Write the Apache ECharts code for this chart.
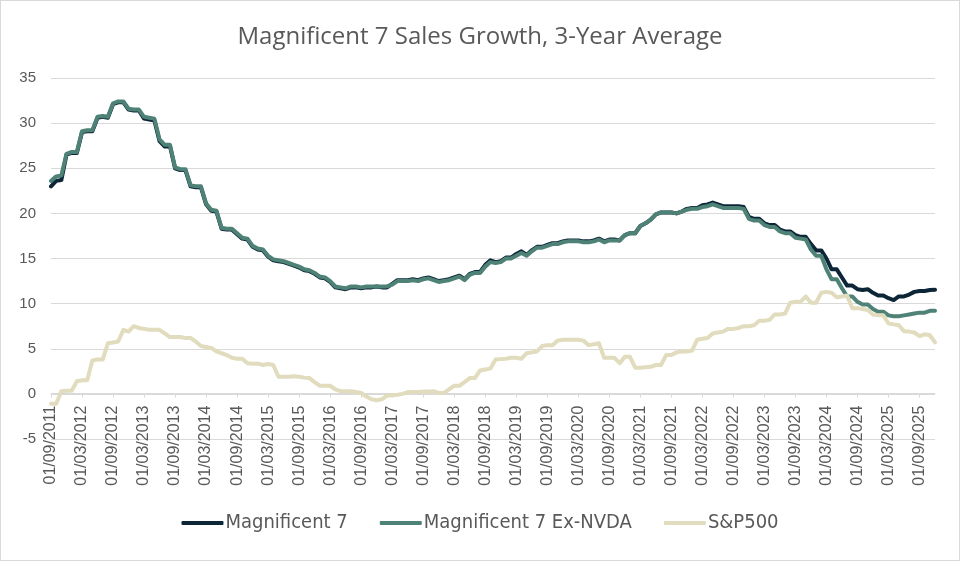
<html>
<head>
<meta charset="UTF-8">
<script src="https://cdn.jsdelivr.net/npm/echarts@6/dist/echarts.min.js"></script>
<title>Magnificent 7 Sales Growth</title>
<style>
	body { margin: 0; background: #fff; }
	#main { width: 958px; height: 559px; border: 1px solid #d9d9d9; }
</style>
</head>
<body>
	<div id="main"></div>
</body>
<script type="text/javascript">
	// monthly, 01/09/2011 .. 01/12/2025
	var months = [];
	for (var y = 2011, m = 9; y < 2025 || (y == 2025 && m <= 12); m++) {
		if (m > 12) { m = 1; y++; }
		months.push('01/' + (m < 10 ? '0' + m : m) + '/' + y);
	}

	var mag7 = [23.0,23.6,23.7,26.5,26.7,26.7,29.0,29.1,29.1,30.6,30.7,30.6,
		32.1,32.3,32.3,31.5,31.4,31.4,30.5,30.4,30.3,28.0,27.4,27.5,
		25.0,24.8,24.8,23.0,22.9,22.9,21.0,20.3,20.2,18.3,18.2,18.2,
		17.7,17.2,17.1,16.3,16.0,15.9,15.2,14.8,14.7,14.6,14.4,14.2,
		14.0,13.7,13.6,13.3,12.9,12.8,12.4,11.8,11.7,11.6,11.8,11.8,
		11.7,11.8,11.8,11.9,11.8,11.8,12.2,12.6,12.6,12.6,12.7,12.6,
		12.8,12.9,12.7,12.5,12.6,12.7,12.9,13.1,12.7,13.3,13.5,13.5,
		14.3,14.8,14.6,14.7,15.1,15.1,15.5,15.8,15.4,15.9,16.3,16.3,
		16.5,16.7,16.7,16.9,17.0,17.0,17.0,16.9,16.9,17.0,17.2,16.9,
		17.1,17.1,17.0,17.6,17.8,17.8,18.6,18.9,19.3,19.9,20.1,20.1,
		20.1,20.0,20.2,20.5,20.6,20.6,20.9,21.0,21.2,21.0,20.8,20.8,
		20.8,20.8,20.7,19.6,19.4,19.4,18.9,18.7,18.7,18.2,18.0,18.0,
		17.6,17.4,17.4,16.6,15.9,15.9,15.0,13.8,13.8,12.9,12.0,12.0,
		11.6,11.5,11.6,11.2,10.9,10.9,10.6,10.4,10.8,10.8,11.0,11.3,
		11.4,11.4,11.5,11.55];

	var mag7ExNvda = [23.6,24.1,24.2,26.6,26.8,26.8,29.1,29.2,29.2,30.7,30.8,30.7,
		32.2,32.4,32.4,31.6,31.5,31.5,30.7,30.6,30.5,28.2,27.6,27.6,
		25.1,24.9,24.9,23.1,23.0,23.0,21.1,20.4,20.3,18.4,18.3,18.3,
		17.8,17.3,17.2,16.4,16.1,16.0,15.3,14.9,14.8,14.7,14.5,14.3,
		14.1,13.8,13.7,13.4,13.0,12.9,12.5,11.9,11.8,11.7,11.9,11.9,
		11.8,11.9,11.9,11.9,11.9,11.9,12.1,12.5,12.5,12.5,12.6,12.5,
		12.7,12.8,12.6,12.4,12.5,12.6,12.8,13.0,12.6,13.2,13.4,13.4,
		14.1,14.6,14.5,14.6,15.0,15.0,15.3,15.6,15.3,15.8,16.2,16.2,
		16.4,16.6,16.6,16.8,16.9,16.9,16.9,16.8,16.8,16.9,17.1,16.8,
		17.0,17.0,17.0,17.6,17.8,17.8,18.6,18.9,19.3,19.9,20.1,20.1,
		20.1,20.0,20.2,20.4,20.5,20.5,20.7,20.8,21.0,20.8,20.6,20.6,
		20.6,20.6,20.5,19.4,19.2,19.2,18.7,18.5,18.5,18.0,17.8,17.8,
		17.3,17.2,17.1,16.0,15.3,15.3,13.8,12.7,12.7,11.7,10.8,10.8,
		10.2,9.9,9.9,9.4,9.1,9.1,8.7,8.6,8.6,8.7,8.8,8.9,
		9.0,9.0,9.2,9.2];

	var sp500 = [-1.1,-1.1,0.3,0.35,0.35,1.4,1.5,1.5,3.7,3.8,3.8,5.6,
		5.7,5.8,7.1,6.9,7.5,7.3,7.2,7.1,7.1,7.1,6.7,6.3,
		6.3,6.3,6.2,6.2,5.8,5.3,5.2,5.1,4.7,4.5,4.3,4.0,
		3.9,3.9,3.4,3.35,3.35,3.2,3.3,3.2,1.9,1.9,1.9,1.95,
		1.9,1.8,1.75,1.3,0.9,0.9,0.9,0.5,0.3,0.3,0.3,0.2,
		0.1,-0.3,-0.6,-0.7,-0.6,-0.2,-0.15,-0.1,0.0,0.2,0.2,0.2,
		0.25,0.25,0.3,0.1,0.1,0.5,0.9,0.9,1.3,1.75,1.75,2.6,
		2.7,2.8,3.8,3.85,3.9,4.0,4.0,3.9,4.5,4.6,4.7,5.3,
		5.4,5.4,5.9,6.0,6.0,6.0,6.0,5.9,5.4,5.5,5.6,4.0,
		4.0,4.0,3.4,4.1,4.1,2.9,2.9,2.95,3.0,3.2,3.2,4.3,
		4.3,4.6,4.7,4.7,4.8,6.0,6.1,6.2,6.7,6.8,6.9,7.2,
		7.2,7.3,7.5,7.5,7.6,8.1,8.1,8.2,8.8,8.8,8.9,10.1,
		10.2,10.2,10.8,10.1,10.1,11.2,11.3,11.2,10.7,10.8,10.9,9.5,
		9.5,9.4,9.3,8.8,8.7,8.7,7.8,7.7,7.6,6.95,6.9,6.8,
		6.4,6.6,6.5,5.7];

	var names = ['Magnificent 7', 'Magnificent 7 Ex-NVDA', 'S&P500'];
	var colors = ['#0c2638', '#4e8277', '#e0dcbd'];

	function lineSeries(name, data, color) {
		return {
			name : name,
			type : 'line',
			data : data,
			color : color,
			showSymbol : false,
			symbol : 'none',
			lineStyle : { width : 4, color : color, cap : 'round', join : 'round' },
			emphasis : { disabled : true }
		};
	}

	var myChart = echarts.init(document.getElementById('main'));
	var option = {
		animation : false,
		title : {
			text : 'Magnificent 7 Sales Growth, 3-Year Average',
			left : 'center',
			top : 19,
			textStyle : { fontFamily : 'Open Sans', fontWeight : 'normal', fontSize : 24, color : '#595959' }
		},
		legend : {
			bottom : 22,
			left : 'center',
			itemWidth : 42,
			itemHeight : 4,
			itemGap : 32,
			icon : 'roundRect',
			data : names,
			textStyle : { fontFamily : 'DejaVu Sans Condensed, Roboto', fontSize : 20, color : '#595959', padding : [0, 0, 0, -3] }
		},
		grid : { left : 50, right : 24, top : 77, bottom : 121 },
		xAxis : {
			type : 'category',
			data : months,
			boundaryGap : false,
			position : 'bottom',
			// axis sits on the 0 line, one band (5 units) above the grid bottom
			offset : -45.375,
			axisLine : { onZero : false, lineStyle : { color : '#d9d9d9' } },
			axisTick : { interval : 5, length : 4, lineStyle : { color : '#d9d9d9' } },
			axisLabel : { interval : 5, rotate : 90, margin : 12, fontSize : 16, color : '#595959', fontFamily : 'Liberation Sans' },
			splitLine : { show : false }
		},
		yAxis : {
			type : 'value',
			min : -5,
			max : 35,
			interval : 5,
			axisLine : { show : false },
			axisTick : { show : false },
			axisLabel : { fontSize : 15, color : '#595959', margin : 15, fontFamily : 'Liberation Sans' },
			splitLine : { lineStyle : { color : '#d9d9d9', width : 1 } }
		},
		series : [
			lineSeries(names[0], mag7, colors[0]),
			lineSeries(names[1], mag7ExNvda, colors[1]),
			lineSeries(names[2], sp500, colors[2])
		]
	};
	myChart.setOption(option);
</script>
</html>
